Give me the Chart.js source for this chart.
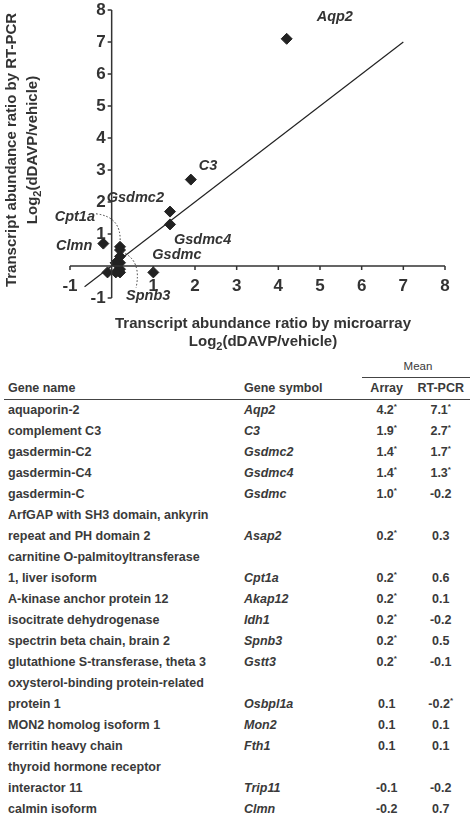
<!DOCTYPE html>
<html><head><meta charset="utf-8">
<script src="https://cdn.jsdelivr.net/npm/chart.js@4"></script>
<style>
body{margin:0;background:#fff;font-family:"Liberation Sans",Arial,sans-serif;color:#333;}
#wrap{width:474px;height:356px;position:relative;overflow:hidden;}
table{border-collapse:collapse;width:466px;margin-left:4px;font-size:12.5px;font-weight:bold;color:#3a3a3a;}
td{height:21px;line-height:14px;padding:0 0 0 4px;white-space:nowrap;}
td.n{text-align:center;}
sup{line-height:0;font-size:8px;}
i{font-style:italic;}
</style></head><body>
<div id="wrap"><canvas id="c" width="474" height="360"></canvas></div>
<table id="t"></table>
<script>
const names=['aquaporin-2','complement C3','gasdermin-C2','gasdermin-C4','gasdermin-C','ArfGAP with SH3 domain, ankyrin|repeat and PH domain 2','carnitine O-palmitoyltransferase|1, liver isoform','A-kinase anchor protein 12','isocitrate dehydrogenase','spectrin beta chain, brain 2','glutathione S-transferase, theta 3','oxysterol-binding protein-related|protein 1','MON2 homolog isoform 1','ferritin heavy chain','thyroid hormone receptor|interactor 11','calmin isoform'];
const symbols=['Aqp2','C3','Gsdmc2','Gsdmc4','Gsdmc','Asap2','Cpt1a','Akap12','Idh1','Spnb3','Gstt3','Osbpl1a','Mon2','Fth1','Trip11','Clmn'];
const arrayVals=[4.2,1.9,1.4,1.4,1.0,0.2,0.2,0.2,0.2,0.2,0.2,0.1,0.1,0.1,-0.1,-0.2];
const rtpcrVals=[7.1,2.7,1.7,1.3,-0.2,0.3,0.6,0.1,-0.2,0.5,-0.1,-0.2,0.1,0.1,-0.2,0.7];
const arraySig=[1,1,1,1,1,1,1,1,1,1,1,0,0,0,0,0];
const rtSig=[1,1,1,1,0,0,0,0,0,0,0,1,0,0,0,0];
const ticks=[-1,1,2,3,4,5,6,7,8];

// table
const t=document.getElementById('t');
let h='<tr><td></td><td></td><td colspan="2" class="n" style="border-bottom:1.5px solid #444;height:18px;font-weight:normal;font-size:11.5px">Mean</td></tr>';
h+='<tr style="border-bottom:1.5px solid #444"><td style="width:232px;height:20px">Gene name</td><td style="width:118px">Gene symbol</td><td class="n">Array</td><td class="n">RT-PCR</td></tr>';
const f=(v,s)=>(v<0?'-':'')+Math.abs(v).toFixed(1)+(s?'<sup>*</sup>':'');
names.forEach((n,i)=>{
  const p=n.split('|');
  if(p.length>1) h+='<tr><td>'+p[0]+'</td><td></td><td></td><td></td></tr>';
  h+='<tr><td>'+p[p.length-1]+'</td><td><i>'+symbols[i]+'</i></td><td class="n">'+f(arrayVals[i],arraySig[i])+'</td><td class="n">'+f(rtpcrVals[i],rtSig[i])+'</td></tr>';
});
h+='<tr style="border-top:1px solid #444"><td colspan="4" style="height:2px"></td></tr>';
t.innerHTML=h;

const labels={Aqp2:[30,-22,'left'],C3:[8,-14,'left'],Gsdmc2:[-6,-14,'right'],Gsdmc4:[4,16,'left'],Gsdmc:[-1,-17,'left'],Cpt1a:[-25,-30,'right'],Clmn:[-11,2,'right'],Spnb3:[6,46,'left']};

const axes={id:'axes',afterDatasetsDraw(ch){
  const c=ch.ctx,x=ch.scales.x,y=ch.scales.y;
  const x0=x.getPixelForValue(0),y0=y.getPixelForValue(0);
  c.save();c.strokeStyle='#333';c.lineWidth=1.5;c.fillStyle='#333';
  c.beginPath();c.moveTo(x.getPixelForValue(-1),y0);c.lineTo(x.getPixelForValue(8),y0);
  c.moveTo(x0,y.getPixelForValue(-1));c.lineTo(x0,y.getPixelForValue(8));c.stroke();
  c.font='bold 17px "Liberation Sans",Arial';
  ticks.forEach(v=>{
    const px=x.getPixelForValue(v),py=y.getPixelForValue(v);
    c.beginPath();c.moveTo(px,y0);c.lineTo(px,y0+4);c.moveTo(x0,py);c.lineTo(x0-4,py);c.stroke();
    c.textAlign='center';c.textBaseline='top';c.fillText(String(v),px,y0+12);
    c.textAlign='right';c.textBaseline='middle';c.fillText(String(v),x0-6,py);
  });
  c.font='bold italic 14.5px "Liberation Sans",Arial';c.textBaseline='middle';
  symbols.forEach((s,i)=>{
    const l=labels[s];if(!l)return;
    const px=x.getPixelForValue(arrayVals[i]),py=y.getPixelForValue(rtpcrVals[i]);
    c.textAlign=l[2];c.fillText(s,px+l[0],py+l[1]);
  });
  // dotted leaders
  c.setLineDash([1.5,2]);c.lineWidth=1;
  const cp=symbols.indexOf('Cpt1a'),sp=symbols.indexOf('Spnb3');
  let px=x.getPixelForValue(arrayVals[cp]),py=y.getPixelForValue(rtpcrVals[cp]);
  c.beginPath();c.moveTo(px-24,py-33);c.quadraticCurveTo(px+2,py-30,px,py-4);c.stroke();
  px=x.getPixelForValue(arrayVals[sp]);py=y.getPixelForValue(rtpcrVals[sp]);
  c.beginPath();c.moveTo(px+2,py+2);c.quadraticCurveTo(px+22,py+10,px+16,py+38);c.stroke();
  c.restore();
  c.fillStyle='#333';c.font='bold 15px "Liberation Sans",Arial';c.textAlign='center';c.textBaseline='middle';
  c.fillText('Transcript abundance ratio by microarray',263,324);
  c.save();c.translate(12,150);c.rotate(-Math.PI/2);c.fillText('Transcript abundance ratio by RT-PCR',0,0);c.restore();
  const sub=(cx,cy,rot)=>{c.save();c.translate(cx,cy);if(rot)c.rotate(-Math.PI/2);
    c.textAlign='left';const w1=c.measureText('Log').width;c.font='bold 11px "Liberation Sans",Arial';const w2=c.measureText('2').width;
    c.font='bold 15px "Liberation Sans",Arial';const w3=c.measureText('(dDAVP/vehicle)').width;const s=-(w1+w2+w3)/2;
    c.fillText('Log',s,0);c.font='bold 11px "Liberation Sans",Arial';c.fillText('2',s+w1,5);
    c.font='bold 15px "Liberation Sans",Arial';c.fillText('(dDAVP/vehicle)',s+w1+w2,0);c.restore();};
  sub(263,342,false);sub(33,150,true);
}};

new Chart(document.getElementById('c'),{
  type:'scatter',
  data:{datasets:[
    {data:arrayVals.map((v,i)=>({x:v,y:rtpcrVals[i]})),pointStyle:'rectRot',pointRadius:5.5,backgroundColor:'#222',borderColor:'#222'},
    {type:'line',data:[{x:-0.65,y:-0.65},{x:7,y:7}],borderColor:'#222',borderWidth:1.2,pointRadius:0}
  ]},
  options:{responsive:false,animation:false,events:[],
    layout:{padding:{left:70,right:29,top:10,bottom:62}},
    plugins:{legend:{display:false},tooltip:{enabled:false}},
    scales:{x:{type:'linear',min:-1,max:8,display:false},y:{min:-1,max:8,display:false}}},
  plugins:[axes]
});
</script></body></html>
